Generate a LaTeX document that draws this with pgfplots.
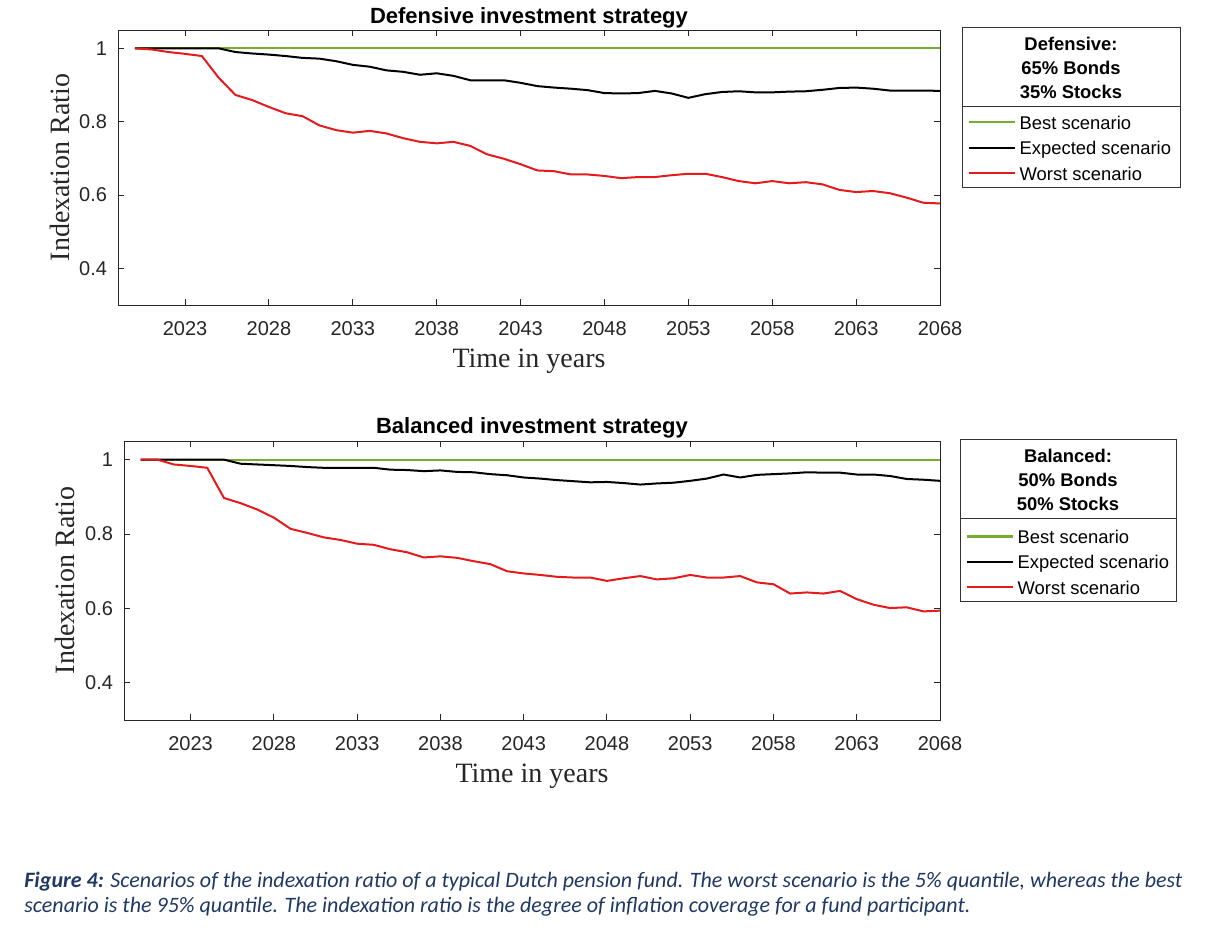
\documentclass[border=0pt]{standalone}
\usepackage{pgfplots}
\pgfplotsset{compat=1.18}
\usepackage{pgfplotstable}
\usepackage{fontspec}
\setmainfont{Liberation Serif}
\newfontfamily\arial{Liberation Sans}
\newfontfamily\calibri{Carlito}

\definecolor{bestgreen}{RGB}{119,172,48}
\definecolor{worstred}{RGB}{228,26,28}
\definecolor{axgray}{RGB}{38,38,38}
\definecolor{capblue}{RGB}{31,56,100}

% defensive strategy: 65% bonds, 35% stocks
\pgfplotstableread{
year best exp worst
2020 1 1.000 1.000
2021 1 1.000 0.997
2022 1 1.000 0.990
2023 1 1.000 0.985
2024 1 1.000 0.979
2025 1 1.000 0.920
2026 1 0.990 0.873
2027 1 0.986 0.859
2028 1 0.983 0.840
2029 1 0.979 0.823
2030 1 0.974 0.815
2031 1 0.972 0.790
2032 1 0.965 0.777
2033 1 0.955 0.770
2034 1 0.950 0.775
2035 1 0.940 0.768
2036 1 0.936 0.755
2037 1 0.928 0.745
2038 1 0.932 0.741
2039 1 0.925 0.745
2040 1 0.913 0.734
2041 1 0.913 0.711
2042 1 0.913 0.699
2043 1 0.906 0.684
2044 1 0.897 0.667
2045 1 0.893 0.665
2046 1 0.890 0.656
2047 1 0.886 0.656
2048 1 0.878 0.652
2049 1 0.877 0.646
2050 1 0.878 0.649
2051 1 0.884 0.649
2052 1 0.877 0.654
2053 1 0.865 0.658
2054 1 0.875 0.658
2055 1 0.881 0.649
2056 1 0.883 0.638
2057 1 0.880 0.632
2058 1 0.880 0.638
2059 1 0.882 0.632
2060 1 0.883 0.635
2061 1 0.887 0.629
2062 1 0.892 0.614
2063 1 0.893 0.608
2064 1 0.890 0.611
2065 1 0.885 0.605
2066 1 0.885 0.593
2067 1 0.885 0.579
2068 1 0.884 0.577
}\defensive

% balanced strategy: 50% bonds, 50% stocks
\pgfplotstableread{
year best exp worst
2020 1 1.000 1.000
2021 1 1.000 1.000
2022 1 1.000 0.987
2023 1 1.000 0.983
2024 1 1.000 0.978
2025 1 1.000 0.897
2026 1 0.989 0.883
2027 1 0.987 0.866
2028 1 0.985 0.844
2029 1 0.983 0.814
2030 1 0.980 0.803
2031 1 0.978 0.791
2032 1 0.978 0.784
2033 1 0.978 0.774
2034 1 0.978 0.771
2035 1 0.973 0.759
2036 1 0.972 0.751
2037 1 0.969 0.737
2038 1 0.971 0.740
2039 1 0.967 0.736
2040 1 0.966 0.727
2041 1 0.961 0.719
2042 1 0.958 0.700
2043 1 0.952 0.694
2044 1 0.949 0.690
2045 1 0.945 0.685
2046 1 0.942 0.683
2047 1 0.939 0.683
2048 1 0.940 0.674
2049 1 0.937 0.681
2050 1 0.933 0.687
2051 1 0.936 0.678
2052 1 0.938 0.681
2053 1 0.943 0.690
2054 1 0.949 0.683
2055 1 0.960 0.683
2056 1 0.952 0.687
2057 1 0.959 0.670
2058 1 0.961 0.665
2059 1 0.963 0.640
2060 1 0.966 0.643
2061 1 0.965 0.640
2062 1 0.965 0.647
2063 1 0.960 0.625
2064 1 0.960 0.610
2065 1 0.956 0.601
2066 1 0.948 0.603
2067 1 0.946 0.592
2068 1 0.943 0.594
}\balanced

\pgfplotsset{
  ir/.style={
    scale only axis,
    xmin=2019, xmax=2068,
    ymin=0.3, ymax=1.05,
    xtick={2023,2028,...,2068},
    ytick={0.4,0.6,0.8,1},
    axis line style={axgray, line width=0.5pt},
    every tick/.style={axgray, line width=0.5pt},
    major tick length=3pt,
    tick align=inside,
    /pgf/number format/assume math mode=true,
    /pgf/number format/set thousands separator={},
    ticklabel style={font=\arial\fontsize{10}{12}\selectfont, text=axgray},
    xticklabel style={yshift=-4.5pt},
    yticklabel style={xshift=-2pt},
    xlabel={Time in years},
    ylabel={Indexation Ratio},
    label style={font=\fontsize{14}{16}\selectfont, text=axgray},
    every axis title shift=0pt,
    title style={font=\arial\bfseries\fontsize{11}{13}\selectfont, anchor=center},
    legend cell align=left,
    legend image code/.code={\draw[#1] (0pt,0pt) -- (23pt,0pt);},
    legend style={draw=none, fill=none, anchor=north west,
      font=\arial\fontsize{9.2}{11}\selectfont,
      inner sep=0pt, column sep=2pt, row sep=5.75pt,
      nodes={inner sep=0pt, text height=7pt, text depth=0pt}},
  },
  best/.style={bestgreen, line width=1.1pt},
  expd/.style={black, line width=1pt},
  wrst/.style={worstred, line width=1pt},
}

\begin{document}
\begin{tikzpicture}
\useasboundingbox (0pt,0pt) rectangle (612pt,-472pt);

\begin{axis}[ir,
  at={(59pt,-152.5pt)}, anchor=south west,
  width=411pt, height=137.5pt,
  title={Defensive investment strategy},
  title style={at={(axis description cs:0.5,1.044)}},
  xlabel style={at={(axis description cs:0.5,-0.2036)}, anchor=center},
  ylabel style={at={(axis description cs:-0.0706,0.5)}, anchor=center},
  legend style={at={(axis description cs:1.0329,0.692)}},
]
\addplot[best] table[x=year, y=best] {\defensive};
\addplot[expd] table[x=year, y=exp] {\defensive};
\addplot[wrst] table[x=year, y=worst] {\defensive};
\legend{Best scenario, Expected scenario, Worst scenario}
\end{axis}

\begin{axis}[ir,
  at={(62pt,-360pt)}, anchor=south west,
  width=408pt, height=139.5pt,
  title={Balanced investment strategy},
  title style={at={(axis description cs:0.5,1.046)}},
  xlabel style={at={(axis description cs:0.5,-0.2007)}, anchor=center},
  ylabel style={at={(axis description cs:-0.0723,0.5)}, anchor=center},
  legend style={at={(axis description cs:1.0307,0.6846)}},
]
\addplot[best] table[x=year, y=best] {\balanced};
\addplot[expd] table[x=year, y=exp] {\balanced};
\addplot[wrst] table[x=year, y=worst] {\balanced};
\legend{Best scenario, Expected scenario, Worst scenario}
\end{axis}

% legend frames with the strategy headers
\draw[black!80, line width=0.5pt] (481pt,-13.5pt) rectangle (590pt,-93.5pt);
\draw[black!80, line width=0.5pt] (481pt,-53pt) -- (590pt,-53pt);
\node[align=center, font=\arial\bfseries\fontsize{9.2}{12}\selectfont] at (535.5pt,-34pt)
  {Defensive:\\65\% Bonds\\35\% Stocks};

\draw[black!80, line width=0.5pt] (480pt,-219.5pt) rectangle (588pt,-300.5pt);
\draw[black!80, line width=0.5pt] (480pt,-259pt) -- (588pt,-259pt);
\node[align=center, font=\arial\bfseries\fontsize{9.2}{12}\selectfont] at (534pt,-240pt)
  {Balanced:\\50\% Bonds\\50\% Stocks};

% caption
\node[anchor=base west, inner sep=0pt, align=left, text=capblue,
  font=\calibri\itshape\fontsize{11}{12.5}\selectfont] at (12pt,-456pt)
  {\textbf{Figure 4:} Scenarios of the indexation ratio of a typical Dutch pension fund. The worst scenario is the 5\% quantile, whereas the best\\
   scenario is the 95\% quantile. The indexation ratio is the degree of inflation coverage for a fund participant.};
\end{tikzpicture}
\end{document}
